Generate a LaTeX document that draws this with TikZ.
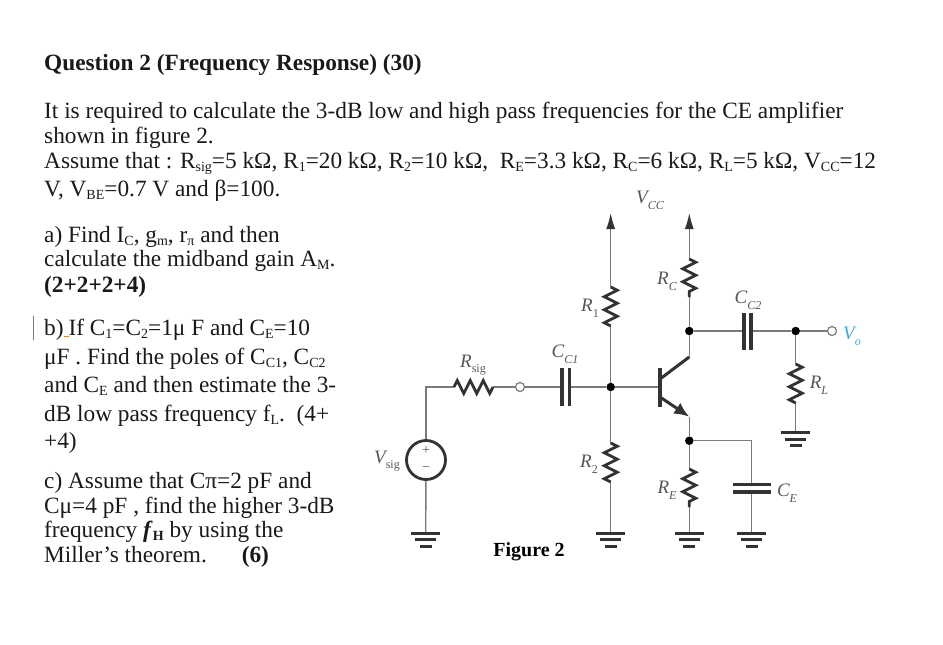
\documentclass[tikz,border=0pt]{standalone}
\usepackage{fontspec}
\setmainfont{Liberation Serif}
\usetikzlibrary{arrows.meta,decorations.pathmorphing}
\newcommand{\low}[1]{\raisebox{-0.14em}{\fontsize{14}{14}\selectfont #1}}
\newcommand{\lsub}[1]{\raisebox{-0.3em}{\fontsize{12}{12}\selectfont #1}}
\definecolor{wirecol}{HTML}{7A7A7A}
\definecolor{partcol}{HTML}{333333}
\definecolor{labcol}{HTML}{555555}
\definecolor{outcol}{HTML}{35A9E0}

\begin{document}
\begin{tikzpicture}[x=1pt,y=-1pt]
  \tikzset{txt/.style = {anchor=base west,inner sep=0pt,font=\fontsize{23.3}{26}\selectfont,text=black!90}}
  \tikzset{lab/.style = {inner sep=0pt,font=\fontsize{19}{20}\selectfont\itshape,text=labcol}}
  \tikzset{wire/.style = {draw=wirecol,line width=1.4pt}}
  \tikzset{part/.style = {draw=partcol,line width=2.8pt}}
  \tikzset{resist/.style = {part,decorate,decoration={zigzag,segment length=13pt,amplitude=6.5pt}}}
  \tikzset{dot/.style = {shape=circle,fill=black,minimum size=8.5pt,inner sep=0pt}}
  \tikzset{open/.style = {shape=circle,draw=wirecol,fill=white,line width=1.2pt,minimum size=9pt,inner sep=0pt}}
  \tikzset{gnd/.pic = {
    \draw[part,line width=3pt] (-14.5,0) -- (14.5,0);
    \draw[part,line width=3pt] (-10.5,6.5) -- (10.5,6.5);
    \draw[part,line width=3pt] (-6,13) -- (6,13);}}
  \useasboundingbox (0,0) rectangle (943,645);

  % text of the question
  \node[txt,font=\fontsize{23.3}{26}\selectfont\bfseries] (q) at (44,70) {Question 2 (Frequency Response) (30)};
  \node[txt] (l1) at (44,118) {It is required to calculate the 3-dB low and high pass frequencies for the CE amplifier};
  \node[txt] (l2) at (44,143) {shown in figure 2.};
  \node[txt] (l3) at (44,168) {Assume that : R\low{sig}=5 kΩ, R\low{1}=20 kΩ, R\low{2}=10 kΩ,\ \ R\low{E}=3.3 kΩ, R\low{C}=6 kΩ, R\low{L}=5 kΩ, V\low{CC}=12};
  \node[txt] (l4) at (44,196) {V, V\low{BE}=0.7 V and β=100.};
  \node[txt] (a1) at (44,242) {a) Find I\low{C}, g\low{m}, r\low{π} and then};
  \node[txt] (a2) at (44,266) {calculate the midband gain A\low{M}.};
  \node[txt,font=\fontsize{23.3}{26}\selectfont\bfseries] (a3) at (44,292) {(2+2+2+4)};
  \node[txt] (b1) at (44,335) {b)\textcolor{orange}{\rule[-1.5pt]{5pt}{0.8pt}}If C\low{1}=C\low{2}=1μ F and C\low{E}=10};
  \node[txt] (b2) at (44,364) {μF . Find the poles of C\low{C1}, C\low{C2}};
  \node[txt] (b3) at (44,392) {and C\low{E} and then estimate the 3-};
  \node[txt] (b4) at (44,421) {dB low pass frequency f\low{L}.\ \ (4+};
  \node[txt] (b5) at (44,448) {+4)};
  \node[txt] (c1) at (44,488) {c) Assume that Cπ=2 pF and};
  \node[txt] (c2) at (44,513) {Cμ=4 pF , find the higher 3-dB};
  \node[txt] (c3) at (44,537) {frequency \textbf{\textit{f}}\low{\textbf{H}} by using the};
  \node[txt] (c4) at (44,562) {Miller’s theorem.\quad\ \ \textbf{(6)}};
  \coordinate (bar1) at (33,316);
  \coordinate (bar2) at (33,340);
  \draw[wirecol,line width=1pt] (bar1) -- (bar2);

  % junctions and terminals
  \node[dot] (jb) at (610.7,387) {};
  \node[dot] (jc) at (689.3,331) {};
  \node[dot] (je) at (689.3,440.7) {};
  \node[dot] (jo) at (795.7,331) {};
  \node[open] (in) at (520,387) {};
  \node[open] (out) at (832,331) {};
  \node[shape=circle,draw=partcol,line width=2.8pt,minimum size=39pt,inner sep=0pt] (vs) at (426,460) {};
  \node[inner sep=0pt,text=labcol,font=\fontsize{14}{14}\selectfont] (vsp) at (426,451) {+};
  \node[inner sep=0pt,text=labcol,font=\fontsize{14}{14}\selectfont] (vsm) at (426,469) {−};

  % ends of the parts
  \coordinate (rs1) at (454,387);  \coordinate (rs2) at (493,387);
  \coordinate (r1a) at (610.7,287); \coordinate (r1b) at (610.7,326);
  \coordinate (r2a) at (610.7,443); \coordinate (r2b) at (610.7,482);
  \coordinate (rca) at (689.3,259); \coordinate (rcb) at (689.3,297);
  \coordinate (rea) at (689.3,469); \coordinate (reb) at (689.3,507);
  \coordinate (rla) at (795.7,364); \coordinate (rlb) at (795.7,403);
  \coordinate (c1l) at (562,387);  \coordinate (c1r) at (569.3,387);
  \coordinate (c2l) at (744,331);  \coordinate (c2r) at (751,331);
  \coordinate (ceu) at (751.7,484.7); \coordinate (ced) at (751.7,492);
  \coordinate (cec) at (751.7,440.7);
  \coordinate (v1) at (610.7,213); \coordinate (v2) at (689.3,213);
  \coordinate (base) at (660,387); \coordinate (bt) at (660,368); \coordinate (bb) at (660,407);
  \coordinate (cs) at (660,379);   \coordinate (ct) at (689.3,357);
  \coordinate (es) at (660,397);   \coordinate (et) at (689.3,416.7);
  \coordinate (g0) at (425.7,533.3); \coordinate (g1) at (610.7,533.3);
  \coordinate (g2) at (689.3,533.3); \coordinate (g3) at (751.7,533.3);
  \coordinate (g4) at (795.7,432.7);

  % wires
  \draw[wire] (vs) |- (rs1);
  \draw[wire] (je) -- (cec) -- (ceu);
  \foreach \from/\to in {rs2/in,in/c1l,c1r/jb,jb/base,r1b/jb,jb/r2a,r2b/g1,vs/g0,
                         rcb/jc,jc/ct,jc/c2l,c2r/jo,jo/out,jo/rla,rlb/g4,
                         et/je,je/rea,reb/g2,ced/g3}
    \draw[wire] (\from) -- (\to);
  \foreach \from/\to in {r1a/v1,rca/v2}
    \draw[wire,-{Latex[length=16pt,width=9pt,color=partcol]}] (\from) -- (\to);

  % resistors
  \foreach \from/\to in {rs1/rs2,r1a/r1b,r2a/r2b,rca/rcb,rea/reb,rla/rlb}
    \draw[resist] (\from) -- (\to);

  % capacitors
  \draw[part,line width=3.2pt] (562,368) -- (562,406);
  \draw[part,line width=3.2pt] (569.3,368) -- (569.3,406);
  \draw[part,line width=3.2pt] (744,313) -- (744,350);
  \draw[part,line width=3.2pt] (751,313) -- (751,350);
  \draw[part,line width=3.2pt] (733,484.7) -- (771,484.7);
  \draw[part,line width=3.2pt] (733,492) -- (771,492);

  % transistor
  \draw[part,line width=3.2pt] (bt) -- (bb);
  \draw[part,line width=3pt] (cs) -- (ct);
  \draw[part,line width=3pt,-{Latex[length=15pt,width=13pt]}] (es) -- (et);

  % grounds
  \foreach \g in {g0,g1,g2,g3,g4}
    \pic at (\g) {gnd};

  % labels
  \node[lab] (lvcc) at (650,200) {V\lsub{CC}};
  \node[lab] (lrc) at (667,281) {R\lsub{C}};
  \node[lab] (lr1) at (590,308) {R\lsub{\upshape 1}};
  \node[lab] (lcc1) at (565,354) {C\lsub{C1}};
  \node[lab] (lrs) at (473,365) {R\lsub{\upshape sig}};
  \node[lab] (lcc2) at (748,300) {C\lsub{C2}};
  \node[lab] (lrl) at (819,385) {R\lsub{L}};
  \node[lab] (lce) at (787,493) {C\lsub{E}};
  \node[lab] (lre) at (667,490) {R\lsub{E}};
  \node[lab] (lr2) at (589,464) {R\lsub{\upshape 2}};
  \node[lab] (lvs) at (387,461) {V\lsub{\upshape sig}};
  \node[lab,text=outcol] (lvo) at (852,336) {V\lsub{o}};
  \node[inner sep=0pt,font=\fontsize{20}{20}\selectfont\bfseries] (fig) at (529,552) {Figure 2};
\end{tikzpicture}
\end{document}
